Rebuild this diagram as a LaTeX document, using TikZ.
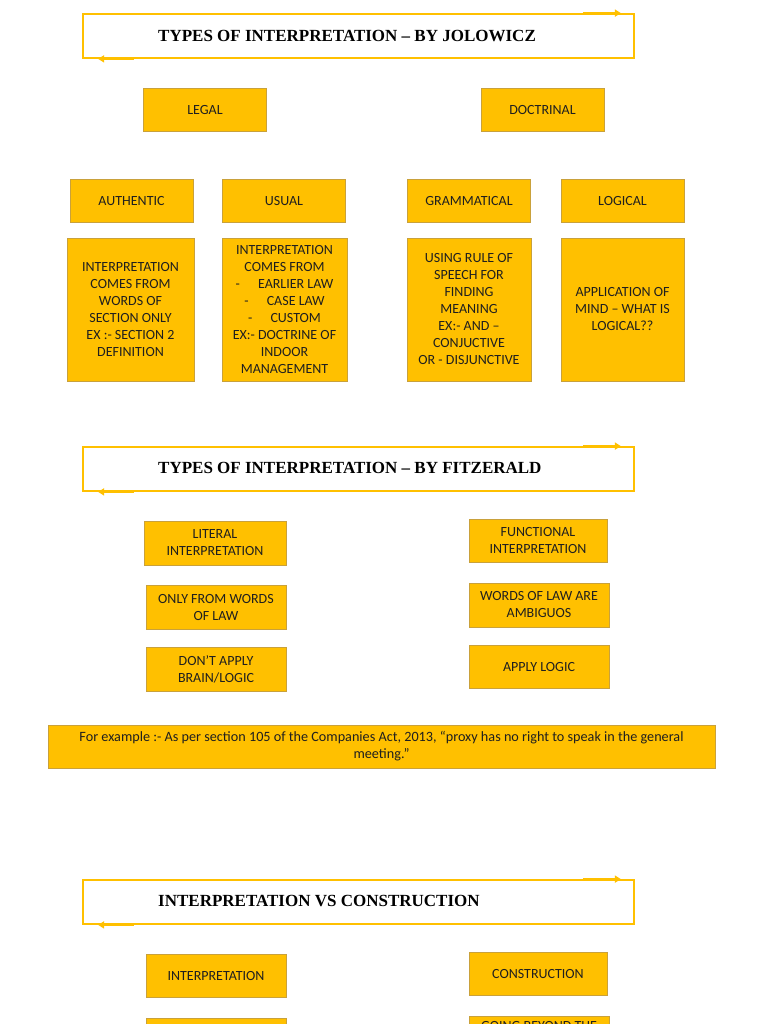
\documentclass[tikz,border=0pt]{standalone}
\usepackage{fontspec}
\setmainfont{Carlito}
\newfontfamily\titlefont{Liberation Serif}
\usepackage{xcolor}
\definecolor{boxgold}{HTML}{FFC000}
\definecolor{boxedge}{HTML}{C9A13B}
\definecolor{linegold}{HTML}{FFC000}
\definecolor{inkdark}{HTML}{1F1F1F}
\usetikzlibrary{arrows.meta, positioning}
\tikzset{
  gbox/.style ={rectangle, draw=boxedge, line width=0.8pt, fill=boxgold, text=inkdark, align=center,
                inner sep=2pt, minimum width=123pt, minimum height=43pt, font=\fontsize{14}{17}\selectfont},
  gboxw/.style={gbox, minimum width=140pt},
  gboxt/.style={gbox, minimum width=125pt, minimum height=143pt},
  banner/.style={rectangle, draw=linegold, line width=1.8pt, minimum width=551pt, minimum height=44pt},
  barr/.style ={-{Triangle[length=6pt,width=7pt]}, draw=linegold, line width=1.8pt},
  btitle/.style={anchor=west, inner sep=0pt, text=black, font=\titlefont\bfseries\fontsize{17}{20}\selectfont},
}
\begin{document}
\begin{tikzpicture}[x=1pt, y=-1pt]
  \path[use as bounding box, fill=white] (0,0) rectangle (768,1024);
  \clip (0,0) rectangle (768,1024);
  % Jolowicz
  \node[banner] (ban1) at (358.5,36) {};
  \draw[barr] ([xshift=-52pt]ban1.north east) -- ([xshift=-14pt]ban1.north east);
  \draw[barr] ([xshift=52pt]ban1.south west) -- ([xshift=16pt]ban1.south west);
  \node[btitle] (tit1) at (158,36) {TYPES OF INTERPRETATION – BY JOLOWICZ};
  \node[gbox] (legal) at (205,110) {LEGAL};
  \node[gbox] (doctrinal) at (542.5,110) {DOCTRINAL};
  \node[gbox] (authentic) at (131.5,201) {AUTHENTIC};
  \node[gbox] (usual) at (284,201) {USUAL};
  \node[gbox] (gramm) at (469,201) {GRAMMATICAL};
  \node[gbox] (logical) at (622.5,201) {LOGICAL};
  \node[gboxt, minimum width=127pt] (authd) at (130.5,309.5) {INTERPRETATION\\COMES FROM\\WORDS OF\\SECTION ONLY\\EX :- SECTION 2\\DEFINITION};
  \node[gboxt] (usuald) at (284.5,309.5) {INTERPRETATION\\COMES FROM\\-\hspace{1.3em}EARLIER LAW\\-\hspace{1.3em}CASE LAW\\-\hspace{1.3em}CUSTOM\\EX:- DOCTRINE OF\\INDOOR\\MANAGEMENT};
  \node[gboxt, minimum width=124pt] (grammd) at (469,309.5) {USING RULE OF\\SPEECH FOR\\FINDING\\MEANING\\EX:- AND –\\CONJUCTIVE\\OR - DISJUNCTIVE};
  \node[gboxt, minimum width=123pt] (logicald) at (622.5,309.5) {APPLICATION OF\\MIND – WHAT IS\\LOGICAL??};
  % Fitzerald
  \node[banner] (ban2) at (358.5,469) {};
  \draw[barr] ([xshift=-52pt]ban2.north east) -- ([xshift=-14pt]ban2.north east);
  \draw[barr] ([xshift=52pt]ban2.south west) -- ([xshift=16pt]ban2.south west);
  \node[btitle] (tit2) at (158,468) {TYPES OF INTERPRETATION – BY FITZERALD};
  \node[gboxw, minimum width=142pt, minimum height=44pt] (literal) at (215,543) {LITERAL\\INTERPRETATION};
  \node[gboxw, minimum width=138pt] (functional) at (538,540.5) {FUNCTIONAL\\INTERPRETATION};
  \node[gboxw, minimum height=44pt] (onlywords) at (216,607) {ONLY FROM WORDS\\OF LAW};
  \node[gboxw, minimum height=44pt] (ambig) at (539,605) {WORDS OF LAW ARE\\AMBIGUOS};
  \node[gboxw, minimum height=44pt] (noapply) at (216,669) {DON’T APPLY\\BRAIN/LOGIC};
  \node[gboxw] (applylogic) at (539,666.5) {APPLY LOGIC};
  \node[gbox, minimum width=667pt, font=\fontsize{14.2}{17}\selectfont] (example) at (381.5,746.5) {For example :- As per section 105 of the Companies Act, 2013, “proxy has no right to speak in the general\\meeting.”};
  % interpretation vs construction
  \node[banner] (ban3) at (358.5,902) {};
  \draw[barr] ([xshift=-52pt]ban3.north east) -- ([xshift=-14pt]ban3.north east);
  \draw[barr] ([xshift=52pt]ban3.south west) -- ([xshift=16pt]ban3.south west);
  \node[btitle] (tit3) at (158,901) {INTERPRETATION VS CONSTRUCTION};
  \node[gboxw] (interp) at (216,975.5) {INTERPRETATION};
  \node[gboxw, minimum width=138pt] (constr) at (538,973.5) {CONSTRUCTION};
  \node[gboxw, anchor=north, minimum height=44pt] (interpd) at (216,1018) {};
  \node[gboxw, anchor=north, minimum height=0pt, inner ysep=5pt] (constrd) at (539,1016) {GOING BEYOND THE};
\end{tikzpicture}
\end{document}
